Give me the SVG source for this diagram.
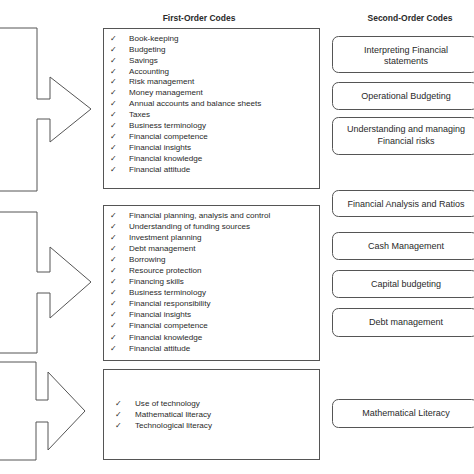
<svg xmlns="http://www.w3.org/2000/svg" width="474" height="474" viewBox="0 0 474 474">
<style>
.ar{fill:#fff;stroke:#555;stroke-width:1}
.bx{fill:#fff;stroke:#555;stroke-width:1}
.rb{fill:#fff;stroke:#555;stroke-width:1}
text{font-family:"Liberation Sans",Arial,sans-serif;fill:#2a2a2a}
.t{font-size:8.1px}
.ck text{font-family:"DejaVu Sans",sans-serif;font-size:8px;fill:#2a2a2a}
.h{font-size:8.5px;font-weight:bold;text-anchor:middle}
.s{font-size:9px;text-anchor:middle}
</style>
<rect width="474" height="474" fill="#fff"/>
<text class="h" x="199" y="21">First-Order Codes</text>
<text class="h" x="410" y="21">Second-Order Codes</text>
<g id="connectors">
<polyline class="ar" points="0,28 37,28 37,99 50,99 50,77 91,109 50,142 50,119 37,119 37,191 0,191"/>
<polyline class="ar" points="0,212 37,212 37,272 50,272 50,247 91,282 50,318 50,293 37,293 37,353 0,353"/>
<polyline class="ar" points="0,362 36,362 36,400 48,400 48,372 85,411 48,450 48,422 36,422 36,460 0,460"/>
</g>
<g id="first1">
<rect class="bx" x="103.5" y="28.5" width="216" height="160"/>
<g class="ck">
<text x="110" y="41">✓</text><text x="110" y="52">✓</text><text x="110" y="63">✓</text><text x="110" y="74">✓</text><text x="110" y="84">✓</text><text x="110" y="95">✓</text><text x="110" y="106">✓</text><text x="110" y="117">✓</text><text x="110" y="128">✓</text><text x="110" y="139">✓</text><text x="110" y="150">✓</text><text x="110" y="161">✓</text><text x="110" y="172">✓</text>
</g>
<g class="t">
<text x="129" y="41">Book-keeping</text>
<text x="129" y="52">Budgeting</text>
<text x="129" y="63">Savings</text>
<text x="129" y="74">Accounting</text>
<text x="129" y="84">Risk management</text>
<text x="129" y="95">Money management</text>
<text x="129" y="106">Annual accounts and balance sheets</text>
<text x="129" y="117">Taxes</text>
<text x="129" y="128">Business terminology</text>
<text x="129" y="139">Financial competence</text>
<text x="129" y="150">Financial insights</text>
<text x="129" y="161">Financial knowledge</text>
<text x="129" y="172">Financial attitude</text>
</g>
</g>
<g id="first2">
<rect class="bx" x="103.5" y="205.5" width="216" height="155"/>
<g class="ck">
<text x="110" y="218">✓</text><text x="110" y="229">✓</text><text x="110" y="240">✓</text><text x="110" y="251">✓</text><text x="110" y="262">✓</text><text x="110" y="273">✓</text><text x="110" y="284">✓</text><text x="110" y="295">✓</text><text x="110" y="306">✓</text><text x="110" y="317">✓</text><text x="110" y="328">✓</text><text x="110" y="340">✓</text><text x="110" y="351">✓</text>
</g>
<g class="t">
<text x="129" y="218">Financial planning, analysis and control</text>
<text x="129" y="229">Understanding of funding sources</text>
<text x="129" y="240">Investment planning</text>
<text x="129" y="251">Debt management</text>
<text x="129" y="262">Borrowing</text>
<text x="129" y="273">Resource protection</text>
<text x="129" y="284">Financing skills</text>
<text x="129" y="295">Business terminology</text>
<text x="129" y="306">Financial responsibility</text>
<text x="129" y="317">Financial insights</text>
<text x="129" y="328">Financial competence</text>
<text x="129" y="340">Financial knowledge</text>
<text x="129" y="351">Financial attitude</text>
</g>
</g>
<g id="first3">
<rect class="bx" x="103.5" y="369.5" width="216" height="90"/>
<g class="ck">
<text x="115" y="406">✓</text><text x="115" y="417">✓</text><text x="115" y="428">✓</text>
</g>
<g class="t">
<text x="135" y="406">Use of technology</text>
<text x="135" y="417">Mathematical literacy</text>
<text x="135" y="428">Technological literacy</text>
</g>
</g>
<g id="s1"><rect class="rb" x="332.5" y="36.5" width="145" height="36" rx="6"/><text class="s" x="406" y="53">Interpreting Financial</text><text class="s" x="406" y="64">statements</text></g>
<g id="s2"><rect class="rb" x="332.5" y="82.5" width="145" height="27" rx="6"/><text class="s" x="406" y="99">Operational Budgeting</text></g>
<g id="s3"><rect class="rb" x="332.5" y="117.5" width="145" height="37" rx="6"/><text class="s" x="406" y="132">Understanding and managing</text><text class="s" x="406" y="144">Financial risks</text></g>
<g id="s4"><rect class="rb" x="332.5" y="190.5" width="145" height="26" rx="6"/><text class="s" x="406" y="207">Financial Analysis and Ratios</text></g>
<g id="s5"><rect class="rb" x="332.5" y="232.5" width="145" height="27" rx="6"/><text class="s" x="406" y="249">Cash Management</text></g>
<g id="s6"><rect class="rb" x="332.5" y="270.5" width="145" height="27" rx="6"/><text class="s" x="406" y="287">Capital budgeting</text></g>
<g id="s7"><rect class="rb" x="332.5" y="308.5" width="145" height="28" rx="6"/><text class="s" x="406" y="325">Debt management</text></g>
<g id="s8"><rect class="rb" x="332.5" y="399.5" width="145" height="28" rx="6"/><text class="s" x="406" y="416">Mathematical Literacy</text></g>
</svg>
